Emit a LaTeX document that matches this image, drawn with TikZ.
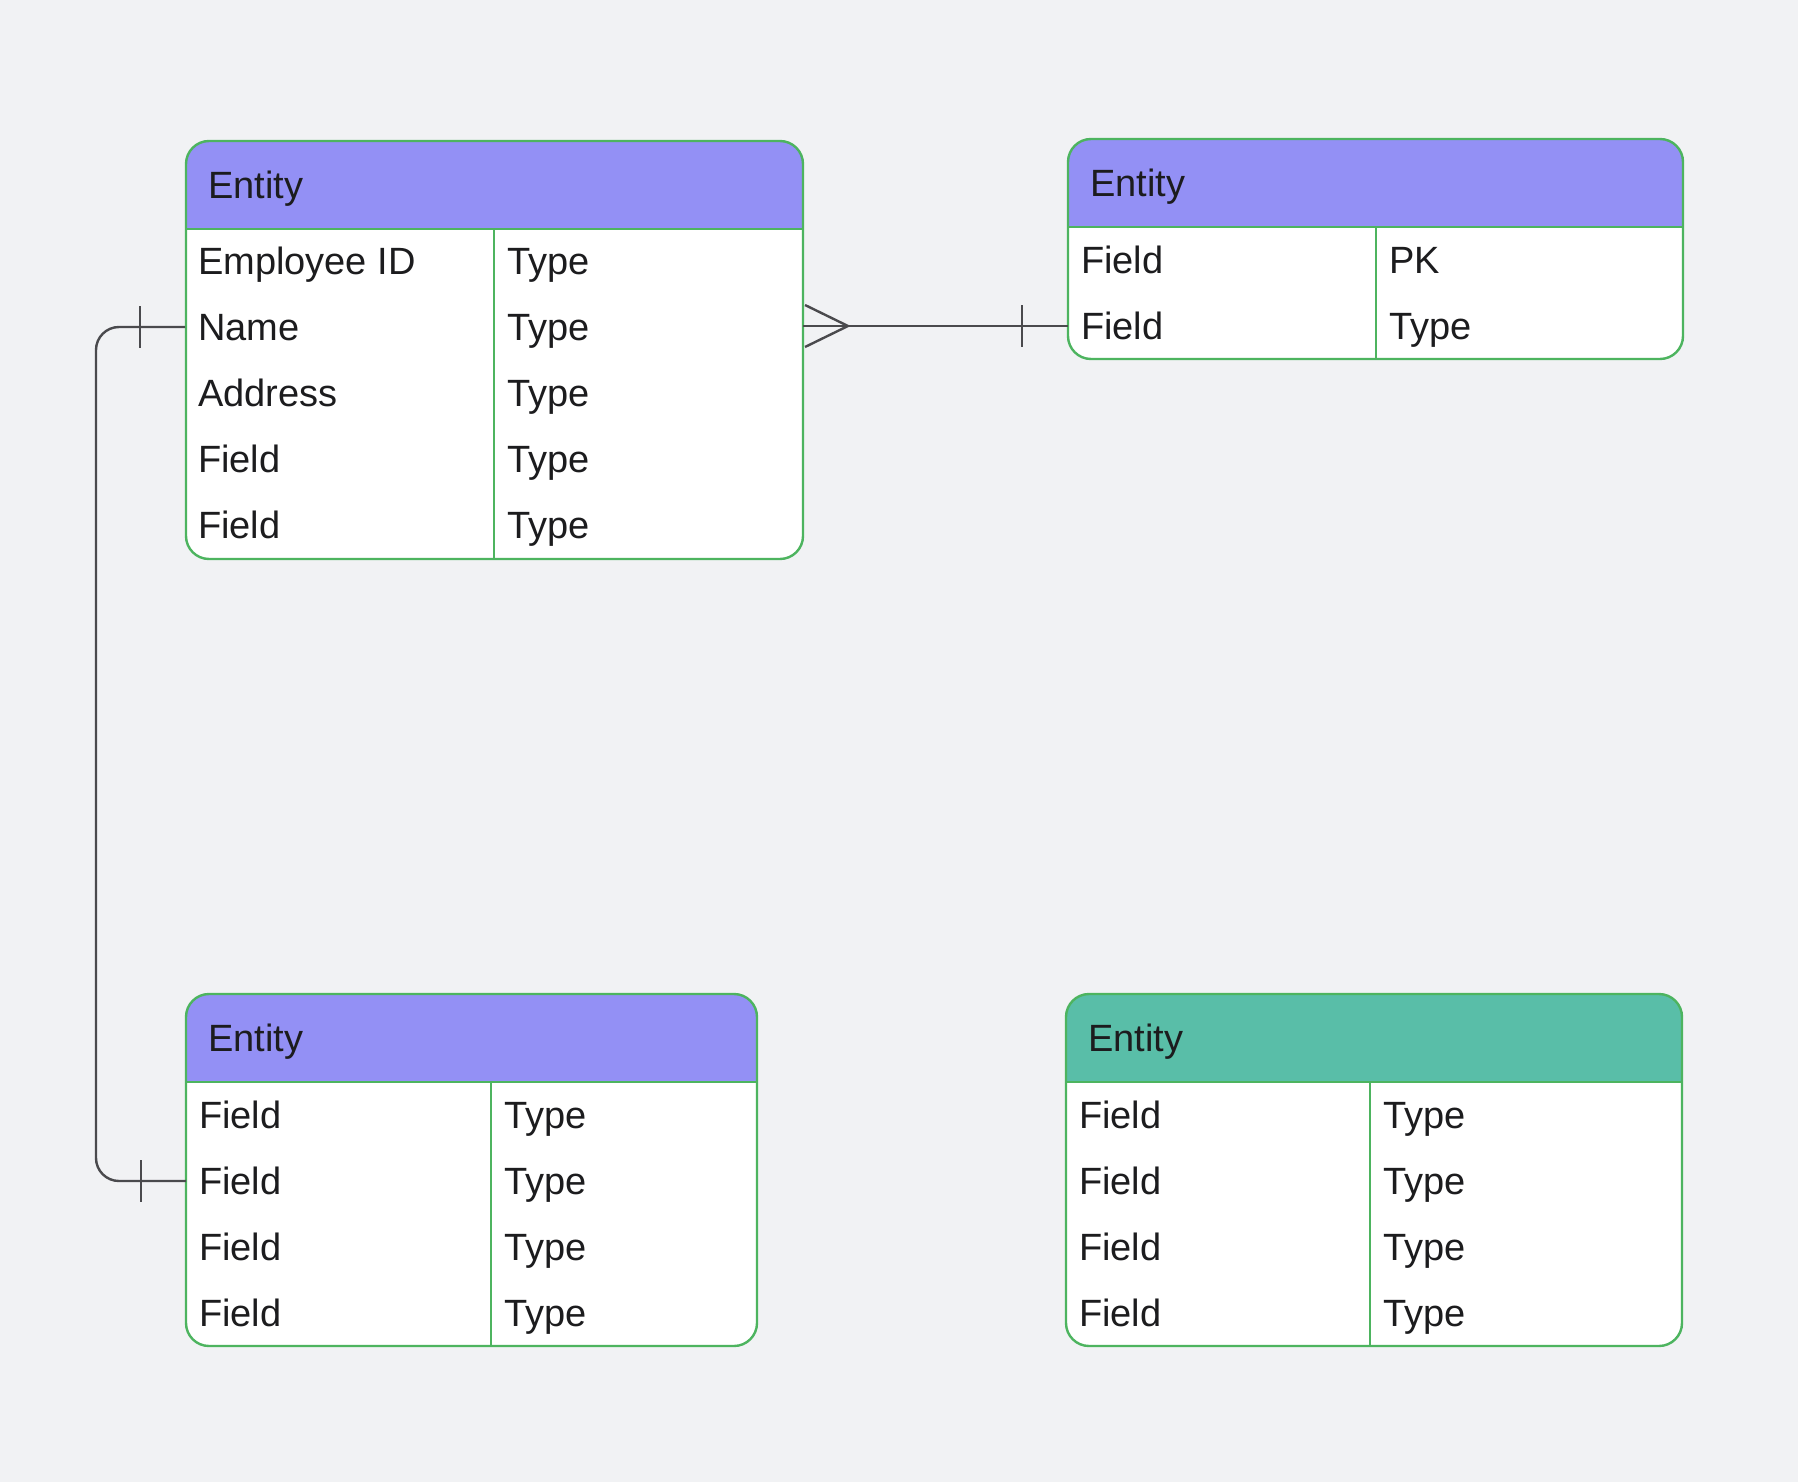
\documentclass[tikz,border=0pt]{standalone}
\usepackage{fontspec}
\setmainfont{Liberation Sans}
\usepackage{tikz}
\usetikzlibrary{calc}

\definecolor{canvas}{HTML}{F1F2F4}
\definecolor{hdrpurple}{HTML}{9390F5}
\definecolor{hdrteal}{HTML}{59BEA8}
\definecolor{edgegreen}{HTML}{4DB45F}
\definecolor{linkgrey}{HTML}{4A4A4D}
\definecolor{inkdark}{HTML}{1C1C1E}

\tikzset{
  box/.style={draw=edgegreen, line width=1.2pt, rounded corners=11.5pt},
  rule/.style={draw=edgegreen, line width=1.2pt},
  cell/.style={anchor=west, inner xsep=6.3pt, inner ysep=0pt, text height=13.6pt,
    text depth=0pt, text=inkdark, font=\fontsize{19}{23}\selectfont},
  title/.style={cell, inner xsep=11.5pt},
  link/.style={draw=linkgrey, line width=1.2pt},
  tick/.style={draw=linkgrey, line width=0.8pt},
}

\begin{document}
\begin{tikzpicture}[x=0.5pt, y=-0.5pt]
        \useasboundingbox (0,0) rectangle (1798,1482);
        \fill[canvas] (0,0) rectangle (1798,1482);

        % entity 1
        \fill[white, rounded corners=11.5pt] (186,141) rectangle (803,559);
        \begin{scope}
            \clip (186,141) rectangle (803,229);
            \fill[hdrpurple, rounded corners=11.5pt] (186,141) rectangle (803,559);
        \end{scope}
        \draw[rule] (186,229) -- (803,229);
        \draw[rule] (494,229) -- (494,559);
        \draw[box] (186,141) rectangle (803,559);
        \node[title] (e1h) at (185,185) {Entity};
        \foreach \f/\t [count=\i] in {Employee ID/Type, Name/Type, Address/Type, Field/Type, Field/Type} {
            \node[cell] (e1f\i) at (185,{228+66*\i-33}) {\f};
            \node[cell] (e1t\i) at (494,{228+66*\i-33}) {\t};
        }
        \coordinate (e1east) at (803,185);

        % entity 2
        \fill[white, rounded corners=11.5pt] (1068,139) rectangle (1683,359);
        \begin{scope}
            \clip (1068,139) rectangle (1683,227);
            \fill[hdrpurple, rounded corners=11.5pt] (1068,139) rectangle (1683,359);
        \end{scope}
        \draw[rule] (1068,227) -- (1683,227);
        \draw[rule] (1376,227) -- (1376,359);
        \draw[box] (1068,139) rectangle (1683,359);
        \node[title] (e2h) at (1067,183) {Entity};
        \foreach \f/\t [count=\i] in {Field/PK, Field/Type} {
            \node[cell] (e2f\i) at (1068,{227+66*\i-33}) {\f};
            \node[cell] (e2t\i) at (1376,{227+66*\i-33}) {\t};
        }

        % entity 3
        \fill[white, rounded corners=11.5pt] (186,994) rectangle (757,1346);
        \begin{scope}
            \clip (186,994) rectangle (757,1082);
            \fill[hdrpurple, rounded corners=11.5pt] (186,994) rectangle (757,1346);
        \end{scope}
        \draw[rule] (186,1082) -- (757,1082);
        \draw[rule] (491,1082) -- (491,1346);
        \draw[box] (186,994) rectangle (757,1346);
        \node[title] (e3h) at (185,1038) {Entity};
        \foreach \f/\t [count=\i] in {Field/Type, Field/Type, Field/Type, Field/Type} {
            \node[cell] (e3f\i) at (186,{1082+66*\i-33}) {\f};
            \node[cell] (e3t\i) at (491,{1082+66*\i-33}) {\t};
        }

        % entity 4
        \fill[white, rounded corners=11.5pt] (1066,994) rectangle (1682,1346);
        \begin{scope}
            \clip (1066,994) rectangle (1682,1082);
            \fill[hdrteal, rounded corners=11.5pt] (1066,994) rectangle (1682,1346);
        \end{scope}
        \draw[rule] (1066,1082) -- (1682,1082);
        \draw[rule] (1370,1082) -- (1370,1346);
        \draw[box] (1066,994) rectangle (1682,1346);
        \node[title] (e4h) at (1065,1038) {Entity};
        \foreach \f/\t [count=\i] in {Field/Type, Field/Type, Field/Type, Field/Type} {
            \node[cell] (e4f\i) at (1066,{1082+66*\i-33}) {\f};
            \node[cell] (e4t\i) at (1370,{1082+66*\i-33}) {\t};
        }

        % one to one, left side
        \coordinate (elbow) at (96,0);
        \draw[link, rounded corners=11.5pt] (e1f2.west) -| (elbow |- e3f2.west) -- (e3f2.west);
        \draw[tick] ([xshift=-22.5pt, yshift=10.5pt]e1f2.west) -- ([xshift=-22.5pt, yshift=-10.5pt]e1f2.west);
        \draw[tick] ([xshift=-22.5pt, yshift=10.5pt]e3f2.west) -- ([xshift=-22.5pt, yshift=-10.5pt]e3f2.west);

        % many to one, top
        \coordinate (crow) at (e1east |- e2f2.west);
        \draw[link] (crow) -- (e2f2.west);
        \draw[link] ([xshift=1pt, yshift=10.5pt]crow) -- ([xshift=22.5pt]crow) -- ([xshift=1pt, yshift=-10.5pt]crow);
        \draw[tick] ([xshift=-23pt, yshift=10.5pt]e2f2.west) -- ([xshift=-23pt, yshift=-10.5pt]e2f2.west);
\end{tikzpicture}
\end{document}
